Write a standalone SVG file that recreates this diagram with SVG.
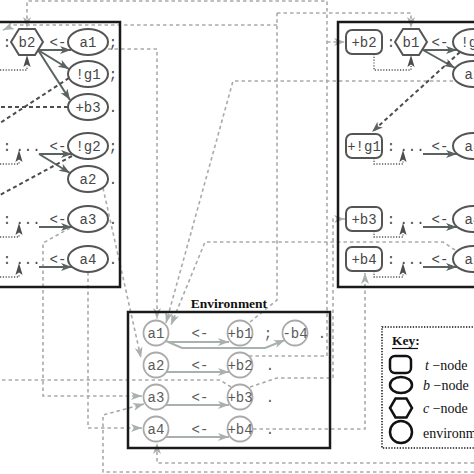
<svg xmlns="http://www.w3.org/2000/svg" width="474" height="474" viewBox="0 0 474 474">
<style>
.t{font-family:"Liberation Mono","DejaVu Sans Mono",monospace;font-size:14px;fill:#474747;text-anchor:middle}
.et{font-family:"Liberation Mono","DejaVu Sans Mono",monospace;font-size:14px;fill:#5a5a5a;text-anchor:middle}
.nd{fill:#fff;stroke:#555;stroke-width:2}
.en{fill:#fff;stroke:#aaa;stroke-width:1.8}
.box{fill:none;stroke:#1a1a1a;stroke-width:2.5}
.da{fill:none;stroke:#5b6360;stroke-width:2;marker-end:url(#dah)}
.dd{fill:none;stroke:#4d4d4d;stroke-width:2;stroke-dasharray:4 3}
.dt{fill:none;stroke:#555;stroke-width:1.3;stroke-dasharray:1.2 1.6}
.g{fill:none;stroke:#aaa;stroke-width:1.6;stroke-dasharray:3.5 3}
.ga{fill:none;stroke:#aaa;stroke-width:1.6;stroke-dasharray:3.5 3;marker-end:url(#gah)}
.ea{fill:none;stroke:#a9b1ad;stroke-width:2;marker-end:url(#eah)}
.ser{font-family:"Liberation Serif","Times New Roman",serif;fill:#111}
.k{fill:#fff;stroke:#111;stroke-width:2.5}
</style>
<defs>
<marker id="dah" markerUnits="userSpaceOnUse" markerWidth="12" markerHeight="10" refX="11" refY="4" orient="auto"><path d="M0,0 L11,4 L0,8 L3,4 z" fill="#5b6360"/></marker>
<marker id="gah" markerUnits="userSpaceOnUse" markerWidth="12" markerHeight="10" refX="11" refY="4" orient="auto"><path d="M0,0 L11,4 L0,8 L3,4 z" fill="#a9b1ad"/></marker>
<marker id="eah" markerUnits="userSpaceOnUse" markerWidth="12" markerHeight="10" refX="11" refY="4" orient="auto"><path d="M0,0 L11,4 L0,8 L3,4 z" fill="#a9b1ad"/></marker>
<path id="up" d="M0,0 L3.6,12 L0,9.5 L-3.6,12 z" fill="#4d4d4d"/>
</defs>
<rect width="474" height="474" fill="#fff"/>

<!-- grey connectors -->
<g id="connectors">
<path class="ga" d="M249,356 H327 V1 H27 V28"/>
<path class="ga" d="M327,42 H345"/>
<path class="g" d="M250,322 L277,300 V13"/>
<path class="ga" d="M277,13 H411 V28"/>
<path class="ga" d="M277,25 H14 L3,30"/>
<path class="ga" d="M108,49 H157 V319"/>
<path class="ga" d="M453,81 H233 L166,323"/>
<path class="ga" d="M455,250 L443,242 H205 L171,325"/>
<path class="ga" d="M103,188 L141,358"/>
<path class="ga" d="M70,228 L43,243 V396 H142"/>
<path class="ga" d="M88,272 V428 H142"/>
<path class="ga" d="M474,472 H103 V415 L144,404"/>
<path class="ga" d="M474,463 H157 V443"/>
<path class="g" d="M231,387 L220,380 H0"/>
<path class="ga" d="M250,387 L277,378 H333 V219 H345"/>
<path class="ga" d="M253,429 H365 V273"/>

<!-- left box internal -->
<path class="da" d="M38,50 H71"/>
<path class="da" d="M38,50 L69,69"/>
<path class="da" d="M38,50 L70,100"/>
<path class="da" d="M39,154 H72"/>
<path class="da" d="M39,154 L70,173"/>
<path class="da" d="M39,227 H72"/>
<path class="da" d="M39,267 H72"/>
<path class="dd" d="M69,78 L0,123"/>
<path class="dd" d="M68,107 H0"/>
<path class="dd" d="M72,156 L0,195"/>
<path class="dt" d="M0,70 H27 V66"/>
<path class="dt" d="M0,164 H19 V161"/>
<path class="dt" d="M0,237 H19 V234"/>
<path class="dt" d="M0,277 H19 V274"/>

<!-- right box internal -->
<path class="da" d="M423,50 H457"/>
<path class="da" d="M423,50 L455,68"/>
<path class="da" d="M423,154 H457"/>
<path class="da" d="M423,227 H457"/>
<path class="da" d="M423,267 H457"/>
<path class="dd" d="M460,52 L372,132" marker-end="url(#dah)"/>
<path class="dt" d="M374,54 V70 H411 V66"/>
<path class="dt" d="M374,158 V164 H403 V161"/>
<path class="dt" d="M374,231 V237 H403 V234"/>
<path class="dt" d="M374,271 V277 H403 V274"/>

<!-- environment internal -->
<path class="ea" d="M168,342 H229"/>
<path class="ea" d="M166,341 L182,348 H265 L285,340"/>
<path class="ea" d="M163,372 H229"/>
<path class="ea" d="M163,405 H229"/>
<path class="ea" d="M163,437 H229"/>
</g>

<!-- Left agent -->
<g id="agent1">
<rect class="box" x="-10" y="22" width="130" height="265"/>
<text class="t" x="7" y="47">:</text>
<text class="t" x="7" y="151">:</text>
<text class="t" x="7" y="224">:</text>
<text class="t" x="7" y="264">:</text>
<text class="t" x="28" y="151">...</text>
<text class="t" x="28" y="224">...</text>
<text class="t" x="28" y="264">...</text>
<use href="#up" x="27" y="55"/>
<use href="#up" x="19" y="150"/>
<use href="#up" x="19" y="223"/>
<use href="#up" x="19" y="263"/>
<text class="t" x="58" y="47">&lt;-</text>
<text class="t" x="58" y="151">&lt;-</text>
<text class="t" x="58" y="224">&lt;-</text>
<text class="t" x="58" y="264">&lt;-</text>
<text class="t" x="113" y="47">;</text>
<text class="t" x="113" y="79">;</text>
<text class="t" x="113" y="112">.</text>
<text class="t" x="113" y="151">;</text>
<text class="t" x="113" y="184">.</text>
<text class="t" x="113" y="224">.</text>
<text class="t" x="113" y="264">.</text>
</g>
<g id="b2"><polygon class="nd" points="11,42 19,29 35,29 43,42 35,55 19,55"/><text class="t" x="27" y="47">b2</text></g>
<g id="L_a1"><ellipse class="nd" cx="88" cy="42" rx="20" ry="13"/><text class="t" x="88" y="47">a1</text></g>
<g id="L_g1"><ellipse class="nd" cx="88" cy="74" rx="20" ry="13"/><text class="t" x="88" y="79">!g1</text></g>
<g id="L_b3"><ellipse class="nd" cx="88" cy="107" rx="20" ry="13"/><text class="t" x="88" y="112">+b3</text></g>
<g id="L_g2"><ellipse class="nd" cx="88" cy="146" rx="20" ry="13"/><text class="t" x="88" y="151">!g2</text></g>
<g id="L_a2"><ellipse class="nd" cx="88" cy="179" rx="20" ry="13"/><text class="t" x="88" y="184">a2</text></g>
<g id="L_a3"><ellipse class="nd" cx="88" cy="219" rx="20" ry="13"/><text class="t" x="88" y="224">a3</text></g>
<g id="L_a4"><ellipse class="nd" cx="88" cy="259" rx="20" ry="13"/><text class="t" x="88" y="264">a4</text></g>

<!-- Right agent -->
<g id="agent2">
<rect class="box" x="338" y="22" width="150" height="265"/>
<text class="t" x="391" y="47">:</text>
<text class="t" x="391" y="151">:</text>
<text class="t" x="391" y="224">:</text>
<text class="t" x="391" y="264">:</text>
<text class="t" x="412" y="151">...</text>
<text class="t" x="412" y="224">...</text>
<text class="t" x="412" y="264">...</text>
<use href="#up" x="411" y="55"/>
<use href="#up" x="403" y="150"/>
<use href="#up" x="403" y="223"/>
<use href="#up" x="403" y="263"/>
<text class="t" x="440" y="47">&lt;-</text>
<text class="t" x="440" y="151">&lt;-</text>
<text class="t" x="440" y="224">&lt;-</text>
<text class="t" x="440" y="264">&lt;-</text>
</g>
<g id="R_tb2"><rect class="nd" x="346" y="30" width="36" height="24" rx="6"/><text class="t" x="364" y="47">+b2</text></g>
<g id="R_tg1"><rect class="nd" x="346" y="134" width="36" height="24" rx="6"/><text class="t" x="364" y="151" font-size="12.5">+!g1</text></g>
<g id="R_tb3"><rect class="nd" x="346" y="207" width="36" height="24" rx="6"/><text class="t" x="364" y="224">+b3</text></g>
<g id="R_tb4"><rect class="nd" x="346" y="247" width="36" height="24" rx="6"/><text class="t" x="364" y="264">+b4</text></g>
<g id="b1"><polygon class="nd" points="395,42 403,29 419,29 427,42 419,55 403,55"/><text class="t" x="411" y="47">b1</text></g>
<g id="R_g1"><ellipse class="nd" cx="473" cy="42" rx="20" ry="13"/><text class="t" x="473" y="47">!g1</text></g>
<g id="R_a1"><ellipse class="nd" cx="473" cy="74" rx="20" ry="13"/><text class="t" x="473" y="79">a1</text></g>
<g id="R_a3"><ellipse class="nd" cx="473" cy="146" rx="20" ry="13"/><text class="t" x="473" y="151">a3</text></g>
<g id="R_a4"><ellipse class="nd" cx="473" cy="219" rx="20" ry="13"/><text class="t" x="473" y="224">a4</text></g>
<g id="R_a1b"><ellipse class="nd" cx="473" cy="259" rx="20" ry="13"/><text class="t" x="473" y="264">a1</text></g>

<!-- Environment -->
<g id="environment">
<rect class="box" x="128" y="312" width="202" height="136" stroke-width="2.2"/>
<text class="ser" x="229" y="308" font-size="13.5" font-weight="bold" text-anchor="middle">Environment</text>
<text class="et" x="200" y="338">&lt;-</text>
<text class="et" x="200" y="370">&lt;-</text>
<text class="et" x="200" y="402">&lt;-</text>
<text class="et" x="200" y="434">&lt;-</text>
<text class="et" x="268" y="338">;</text>
<text class="et" x="322" y="338">.</text>
<text class="et" x="270" y="370">.</text>
<text class="et" x="270" y="402">.</text>
<text class="et" x="270" y="434">.</text>
</g>
<g id="E_a1"><circle class="en" cx="156" cy="333" r="12.5"/><text class="et" x="156" y="338">a1</text></g>
<g id="E_a2"><circle class="en" cx="156" cy="365" r="12.5"/><text class="et" x="156" y="370">a2</text></g>
<g id="E_a3"><circle class="en" cx="156" cy="397" r="12.5"/><text class="et" x="156" y="402">a3</text></g>
<g id="E_a4"><circle class="en" cx="156" cy="429" r="12.5"/><text class="et" x="156" y="434">a4</text></g>
<g id="E_b1"><circle class="en" cx="240" cy="333" r="12.5"/><text class="et" x="240" y="338">+b1</text></g>
<g id="E_b2"><circle class="en" cx="240" cy="365" r="12.5"/><text class="et" x="240" y="370">+b2</text></g>
<g id="E_b3"><circle class="en" cx="240" cy="397" r="12.5"/><text class="et" x="240" y="402">+b3</text></g>
<g id="E_b4"><circle class="en" cx="240" cy="429" r="12.5"/><text class="et" x="240" y="434">+b4</text></g>
<g id="E_mb4"><circle class="en" cx="295" cy="333" r="12.5"/><text class="et" x="295" y="338">-b4</text></g>

<!-- Key -->
<g id="key">
<rect x="382" y="327" width="110" height="121" fill="#fff" stroke="#111" stroke-width="1.5" stroke-dasharray="1.3 1.5"/>
<text class="ser" x="392" y="345" font-size="13.5" font-weight="bold">Key:</text>
<line x1="392" y1="348.5" x2="418" y2="348.5" stroke="#111" stroke-width="1.2"/>
<rect class="k" x="390" y="356" width="21" height="17" rx="5"/>
<ellipse class="k" cx="401" cy="385" rx="11" ry="8"/>
<polygon class="k" points="390,408 395.5,398.5 406.5,398.5 412,408 406.5,417.5 395.5,417.5"/>
<circle class="k" cx="401" cy="432" r="11"/>
<text class="ser" x="425" y="370" font-size="14"><tspan font-style="italic">t</tspan> −node</text>
<text class="ser" x="423" y="390" font-size="14"><tspan font-style="italic">b</tspan> −node</text>
<text class="ser" x="423" y="413" font-size="14"><tspan font-style="italic">c</tspan> −node</text>
<text class="ser" x="423" y="438" font-size="14">environment</text>
</g>
</svg>
